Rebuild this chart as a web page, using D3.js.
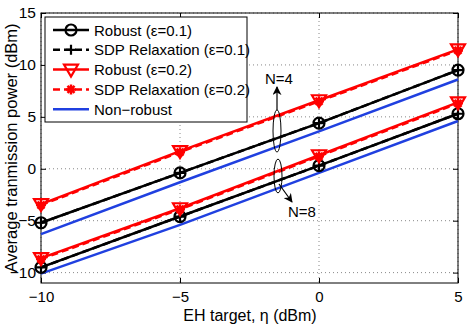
<!DOCTYPE html>
<html><head><meta charset="utf-8">
<script src="https://cdn.jsdelivr.net/npm/d3@7/dist/d3.min.js"></script>
<style>
body{margin:0;background:#fff;}
svg{display:block;font-family:"Liberation Sans",Arial,sans-serif;}
</style></head>
<body><svg id="c" width="474" height="326"></svg>
<script>
const eta = [-10, -5, 0, 5];
const xTicks = [-10, -5, 0, 5];
const yTicks = [-10, -5, 0, 5, 10, 15];
// N=4
const robust01_N4 = [-5.2, -0.4, 4.4, 9.5];
const sdp01_N4    = [-5.2, -0.4, 4.4, 9.5];
const robust02_N4 = [-3.4, 1.7, 6.6, 11.5];
const sdp02_N4    = [-3.5, 1.6, 6.5, 11.4];
const nonrob_N4   = [-6.3, -1.3, 3.6, 8.6];
// N=8
const robust01_N8 = [-9.5, -4.6, 0.3, 5.3];
const sdp01_N8    = [-9.5, -4.6, 0.3, 5.3];
const robust02_N8 = [-8.6, -3.8, 1.3, 6.4];
const sdp02_N8    = [-8.7, -3.9, 1.2, 6.3];
const nonrob_N8   = [-10.1, -5.4, -0.4, 4.6];
const legendLabels = ["Robust (\u03b5=0.1)", "SDP Relaxation (\u03b5=0.1)", "Robust (\u03b5=0.2)", "SDP Relaxation (\u03b5=0.2)", "Non\u2212robust"];

const svg = d3.select("#c");
const L = 41, R = 458, T = 13, B = 283;
const x = d3.scaleLinear().domain([-10, 5]).range([L, R]);
const y = d3.scaleLinear().domain([-11, 15]).range([B, T]);
const RED = "#ff0000", BLUE = "#2040e0", BLACK = "#000";
const fmt = d => d < 0 ? "\u2212" + Math.abs(d) : String(d);

// grid
const g = svg.append("g");
g.selectAll(".gx").data(xTicks).join("line")
  .attr("x1", d => x(d)).attr("x2", d => x(d)).attr("y1", T).attr("y2", B)
  .attr("stroke", "#888").attr("stroke-width", 1).attr("stroke-dasharray", "1,3");
g.selectAll(".gy").data(yTicks).join("line")
  .attr("x1", L).attr("x2", R).attr("y1", d => y(d)).attr("y2", d => y(d))
  .attr("stroke", "#888").attr("stroke-width", 1).attr("stroke-dasharray", "1,3");

// axes
const xa = svg.append("g").attr("transform", `translate(0,${B})`)
  .call(d3.axisBottom(x).tickValues(xTicks).tickFormat(fmt).tickSizeInner(-5).tickSizeOuter(0).tickPadding(8));
const ya = svg.append("g").attr("transform", `translate(${L},0)`)
  .call(d3.axisLeft(y).tickValues(yTicks).tickFormat(fmt).tickSizeInner(-5).tickSizeOuter(0).tickPadding(5));
[xa, ya].forEach(a => { a.select(".domain").remove(); a.selectAll("text").attr("font-size", 15.5).attr("fill", "#000").attr("font-family", "Liberation Sans, Arial, sans-serif"); a.selectAll("line").attr("stroke", "#000"); });
xa.selectAll("text").attr("font-size", 15);
// right/top ticks
svg.append("g").attr("transform", `translate(0,${T})`)
  .call(d3.axisTop(x).tickValues(xTicks).tickFormat("").tickSizeInner(-5).tickSizeOuter(0))
  .call(a => a.select(".domain").remove());
svg.append("g").attr("transform", `translate(${R},0)`)
  .call(d3.axisRight(y).tickValues(yTicks).tickFormat("").tickSizeInner(-5).tickSizeOuter(0))
  .call(a => a.select(".domain").remove());
svg.append("rect").attr("x", L).attr("y", T).attr("width", R - L).attr("height", B - T)
  .attr("fill", "none").attr("stroke", "#000").attr("stroke-width", 1);

const line = d3.line().x((d, i) => x(eta[i])).y(d => y(d));
function drawLine(vals, color, dash) {
  svg.append("path").datum(vals).attr("d", line).attr("fill", "none")
    .attr("stroke", color).attr("stroke-width", 2.5).attr("stroke-dasharray", dash || null);
}
function circ(sel, cx, cy) {
  sel.append("circle").attr("cx", cx).attr("cy", cy).attr("r", 5.5).attr("fill", "none").attr("stroke", BLACK).attr("stroke-width", 2.2);
}
function plus(sel, cx, cy) {
  sel.append("path").attr("d", `M${cx-5},${cy}H${cx+5}M${cx},${cy-5}V${cy+5}`).attr("stroke", BLACK).attr("stroke-width", 2.2);
}
function tri(sel, cx, cy) {
  sel.append("path").attr("d", `M${cx-7},${cy-5}L${cx+7},${cy-5}L${cx},${cy+7}Z`).attr("fill", "none").attr("stroke", RED).attr("stroke-width", 2.2);
}
function star(sel, cx, cy) {
  let d = "";
  for (let k = 0; k < 4; k++) { const a = k * Math.PI / 4; d += `M${cx - 5*Math.cos(a)},${cy - 5*Math.sin(a)}L${cx + 5*Math.cos(a)},${cy + 5*Math.sin(a)}`; }
  sel.append("path").attr("d", d).attr("stroke", RED).attr("stroke-width", 2.5);
}
function markers(vals, fn) {
  const gg = svg.append("g");
  vals.forEach((v, i) => fn(gg, x(eta[i]), y(v)));
}

[nonrob_N4, nonrob_N8].forEach(v => drawLine(v, BLUE));
[robust01_N4, robust01_N8].forEach(v => drawLine(v, BLACK));
[sdp01_N4, sdp01_N8].forEach(v => drawLine(v, BLACK, "7,4"));
[robust02_N4, robust02_N8].forEach(v => drawLine(v, RED));
[sdp02_N4, sdp02_N8].forEach(v => drawLine(v, RED, "7,4"));
[robust01_N4, robust01_N8].forEach(v => markers(v, circ));
[sdp01_N4, sdp01_N8].forEach(v => markers(v, plus));
[robust02_N4, robust02_N8].forEach(v => markers(v, tri));
[sdp02_N4, sdp02_N8].forEach(v => markers(v, star));

// annotations
svg.append("defs").append("marker").attr("id", "ah").attr("viewBox", "0 0 10 10").attr("refX", 9).attr("refY", 5)
  .attr("markerWidth", 9).attr("markerHeight", 9).attr("markerUnits", "userSpaceOnUse").attr("orient", "auto")
  .append("path").attr("d", "M0,0L10,5L0,10L3,5Z").attr("fill", "#000");
svg.append("ellipse").attr("cx", 277).attr("cy", 131).attr("rx", 4).attr("ry", 21).attr("fill", "none").attr("stroke", "#000").attr("stroke-width", 1);
svg.append("line").attr("x1", 277).attr("y1", 110).attr("x2", 277).attr("y2", 87).attr("stroke", "#000").attr("stroke-width", 1.2).attr("marker-end", "url(#ah)");
svg.append("text").attr("x", 279).attr("y", 84).attr("text-anchor", "middle").attr("font-size", 15).text("N=4");
svg.append("ellipse").attr("cx", 278).attr("cy", 176).attr("rx", 4).attr("ry", 17).attr("fill", "none").attr("stroke", "#000").attr("stroke-width", 1);
svg.append("line").attr("x1", 279).attr("y1", 184).attr("x2", 292).attr("y2", 202).attr("stroke", "#000").attr("stroke-width", 1.2).attr("marker-end", "url(#ah)");
svg.append("text").attr("x", 288).attr("y", 217).attr("font-size", 15).text("N=8");

// legend
const lg = svg.append("g");
lg.append("rect").attr("x", 45).attr("y", 17).attr("width", 202).attr("height", 105).attr("fill", "#fff").attr("stroke", "#000").attr("stroke-width", 1);
const styles = [
  {c: BLACK, dash: null, m: circ},
  {c: BLACK, dash: "7,4", m: plus},
  {c: RED, dash: null, m: tri},
  {c: RED, dash: "7,4", m: star},
  {c: BLUE, dash: null, m: null}
];
legendLabels.forEach((t, i) => {
  const yy = 30 + i * 19.8;
  const s = styles[i];
  lg.append("line").attr("x1", 53).attr("x2", 89).attr("y1", yy).attr("y2", yy).attr("stroke", s.c).attr("stroke-width", 2.5).attr("stroke-dasharray", s.dash);
  if (s.m) s.m(lg, 71, yy);
  lg.append("text").attr("x", 94).attr("y", yy + 5.5).attr("font-size", 15).text(t);
});

// axis titles
svg.append("text").attr("x", 250).attr("y", 321).attr("text-anchor", "middle").attr("font-size", 16).text("EH target, \u03b7 (dBm)");
svg.append("text").attr("transform", `translate(17,${(T + B) / 2}) rotate(-90)`).attr("text-anchor", "middle").attr("font-size", 16.5).text("Average tranmission power (dBm)");
</script></body></html>
